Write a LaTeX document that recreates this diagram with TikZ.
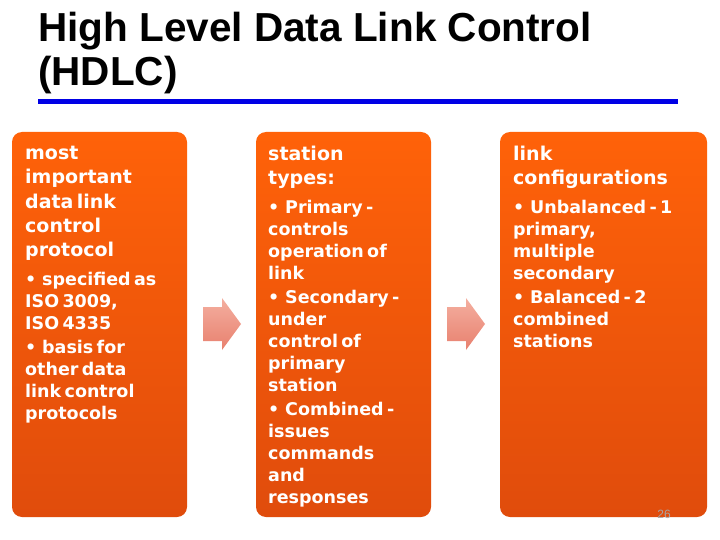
\documentclass[tikz,border=0pt]{standalone}
\usepackage{fontspec}
\setmainfont{Liberation Sans}
\newfontfamily\boxfont{DejaVu Sans}
\definecolor{otop}{HTML}{FF6209}
\definecolor{obot}{HTML}{E04C0C}
\definecolor{atop}{HTML}{F4AFA0}
\definecolor{abot}{HTML}{E8806E}
\tikzset{
  box/.style={rounded corners=10pt, top color=otop, bottom color=obot, draw=none},
  txt/.style={anchor=north west, text=white, inner sep=0pt, align=left, font=\boxfont\bfseries},
  harrow/.style={top color=atop, bottom color=abot, draw=none}
}
\newcommand{\hd}[1]{{\fontsize{19}{24.3}\selectfont #1\par}\vspace{7pt}}
\newcommand{\bul}[1]{{\fontsize{17.5}{22}\selectfont\hangindent=17pt\hangafter=1\noindent\makebox[17pt][l]{•}#1\par}\vspace{2pt}}
\begin{document}
\begin{tikzpicture}[x=1pt,y=-1pt]
\useasboundingbox (0,0) rectangle (720,540);
\node[anchor=north west, inner sep=0pt, align=left, font=\fontsize{40.5}{44}\selectfont\bfseries] (title) at (38,12) {High Level Data Link Control\\(HDLC)};
\fill[blue!90!black] (38,99) rectangle (678,104);
\coordinate (bl) at (38,99);
\path[box] (12,132) rectangle (187,517);
\path[box] (256,132) rectangle (431,517);
\path[box] (500,132) rectangle (707,517);
\node[txt, text width=170pt] (t1) at (25,146) {\hd{most\\important\\data link\\control\\protocol}\bul{specified as\\ISO 3009,\\ISO 4335}\bul{basis for\\other data\\link control\\protocols}};
\node[txt, text width=170pt] (t2) at (268,146) {\hd{station\\types:}\bul{Primary -\\controls\\operation of\\link}\bul{Secondary -\\under\\control of\\primary\\station}\bul{Combined -\\issues\\commands\\and\\responses}};
\node[txt, text width=200pt] (t3) at (513,146) {\hd{link\\configurations}\bul{Unbalanced - 1\\primary,\\multiple\\secondary}\bul{Balanced - 2\\combined\\stations}};
\path[harrow] (203,307) -- (222,307) -- (222,298) -- (241,324) -- (222,350) -- (222,341) -- (203,341) -- cycle;
\path[harrow] (447,307) -- (466,307) -- (466,298) -- (485,324) -- (466,350) -- (466,341) -- (447,341) -- cycle;
\node[text=gray!70, font=\fontsize{12}{14}\selectfont] (pg) at (664,514) {26};
\end{tikzpicture}
\end{document}
